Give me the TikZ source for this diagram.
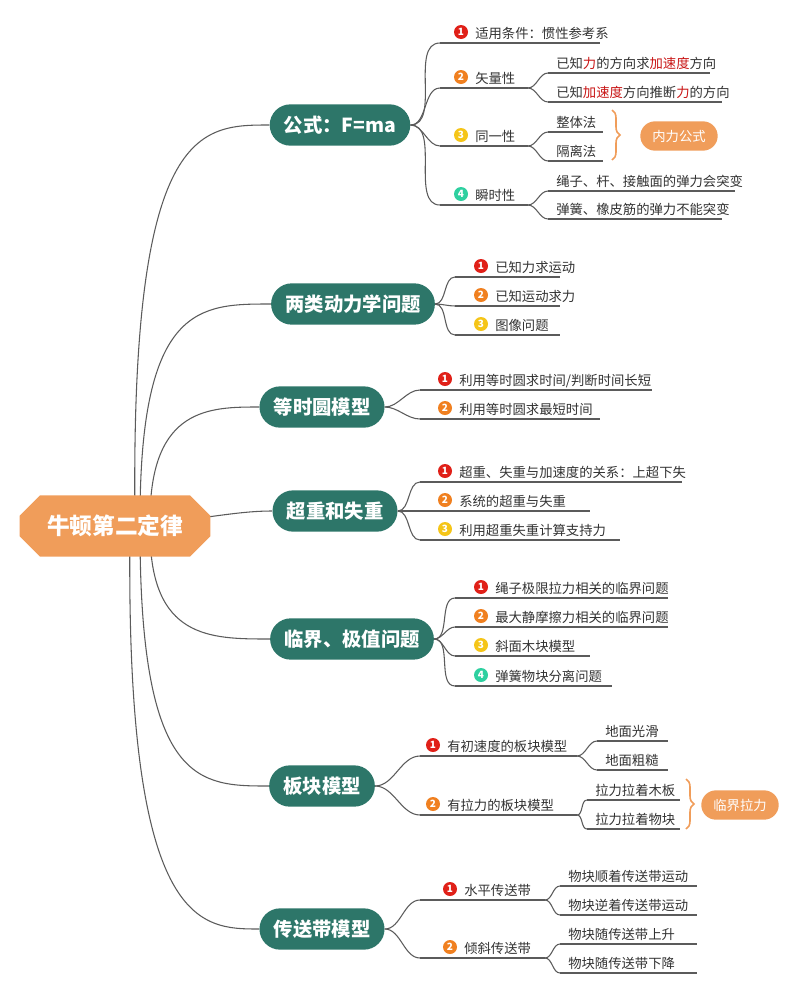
\documentclass[tikz,border=0pt]{standalone}
\usepackage{fontspec}
\setmainfont{Noto Sans CJK SC}
\usetikzlibrary{shapes.misc,decorations.pathreplacing}
\definecolor{teal}{RGB}{45,118,105}
\definecolor{org}{RGB}{240,157,90}
\definecolor{txt}{RGB}{50,50,50}
\definecolor{b1}{RGB}{224,32,24}
\definecolor{b2}{RGB}{240,128,32}
\definecolor{b3}{RGB}{245,197,24}
\definecolor{b4}{RGB}{46,208,160}
\definecolor{rd}{RGB}{200,20,20}
\newcommand\leaf[5]{%
  \coordinate (#1-s) at (#2,#4); \coordinate (#1-e) at (#3,#4);
  \draw[ln] (#1-s) -- (#1-e);
  \node[lt] (#1) at (#2+8,#4-5) {#5};}
\newcommand\badgeleaf[8]{% name xs xe y badgex color number text
  \coordinate (#1-s) at (#2,#4); \coordinate (#1-e) at (#3,#4);
  \draw[ln] (#1-s) -- (#1-e);
  \node[badge,fill=#6] (#1-b) at (#5-6,#4-11) {#7};
  \node[lt] (#1) at (#5+8,#4-5) {#8};}
\begin{document}
\begin{tikzpicture}[x=0.75pt,y=-0.75pt,
  ln/.style={draw=txt!80,line width=0.8pt},
  lt/.style={anchor=base west,inner sep=0pt,text=txt,font=\fontsize{10}{12}\selectfont},
  badge/.style={circle,inner sep=0pt,minimum size=10.5pt,text=white,font=\fontsize{7.5}{7.5}\selectfont\bfseries},
  br/.style={rounded rectangle,fill=teal,text=white,font=\fontsize{14.5}{16}\selectfont\bfseries,minimum height=31pt,inner xsep=9pt},
  tag/.style={rounded rectangle,fill=org,text=white,font=\fontsize{10}{12}\selectfont,minimum height=22pt,inner xsep=8pt},
  cn/.style={ln,out=0,in=180,looseness=0.9}]
\useasboundingbox (0,0) rectangle (800,993);
% branches
\node[br] (f) at (340,125) {公式：F=ma};
\node[br] (a) at (353,304) {两类动力学问题};
\node[br] (b) at (322,407) {等时圆模型};
\node[br] (c) at (335,511) {超重和失重};
\node[br] (d) at (352,639) {临界、极值问题};
\node[br] (e) at (322,786) {板块模型};
\node[br] (g) at (322,929) {传送带模型};
% root connectors
\draw[ln] (135,520) .. controls (130,125) and (200,125) .. (f.west);
\draw[ln] (140,520) .. controls (140,304) and (200,304) .. (a.west);
\draw[ln] (150,520) .. controls (150,407) and (210,407) .. (b.west);
\draw[ln] (200,518) .. controls (230,514) and (250,511) .. (c.west);
\draw[ln] (150,530) .. controls (150,639) and (210,639) .. (d.west);
\draw[ln] (140,530) .. controls (140,786) and (200,786) .. (e.west);
\draw[ln] (130,530) .. controls (125,929) and (200,929) .. (g.west);
\node[chamfered rectangle,chamfered rectangle xsep=12pt,fill=org,text=white,minimum width=143pt,minimum height=46pt,font=\fontsize{17}{20}\selectfont\bfseries] (root) at (115,526) {牛顿第二定律};
% branch 1
\badgeleaf{f1}{440}{600}{43}{467}{b1}{1}{适用条件：惯性参考系}
\badgeleaf{f2}{440}{528}{88}{467}{b2}{2}{矢量性}
\badgeleaf{f3}{440}{528}{146}{467}{b3}{3}{同一性}
\badgeleaf{f4}{440}{528}{205}{467}{b4}{4}{瞬时性}
\foreach \n in {f1,f2,f3,f4} \draw[cn] (f.east) to (\n-s);
\leaf{f21}{548}{710}{73}{已知\textcolor{rd}{力}的方向求\textcolor{rd}{加速度}方向}
\leaf{f22}{548}{722}{102}{已知\textcolor{rd}{加速度}方向推断\textcolor{rd}{力}的方向}
\leaf{f31}{548}{603}{132}{整体法}
\leaf{f32}{548}{603}{161}{隔离法}
\leaf{f41}{548}{735}{191}{绳子、杆、接触面的弹力会突变}
\leaf{f42}{548}{722}{219}{弹簧、橡皮筋的弹力不能突变}
\draw[cn] (f2-e) to (f21-s); \draw[cn] (f2-e) to (f22-s);
\draw[cn] (f3-e) to (f31-s); \draw[cn] (f3-e) to (f32-s);
\draw[cn] (f4-e) to (f41-s); \draw[cn] (f4-e) to (f42-s);
\coordinate (fb1) at (612,110); \coordinate (fb2) at (612,160);
\draw[draw=org,line width=1.2pt,decorate,decoration={brace,amplitude=6pt}] (fb1) -- (fb2);
\node[tag] (nl) at (679,136) {内力公式};
% branch 2
\badgeleaf{a1}{455}{560}{277}{487}{b1}{1}{已知力求运动}
\badgeleaf{a2}{455}{560}{306}{487}{b2}{2}{已知运动求力}
\badgeleaf{a3}{455}{560}{335}{487}{b3}{3}{图像问题}
\foreach \n in {a1,a2,a3} \draw[cn] (a.east) to (\n-s);
% branch 3
\badgeleaf{b1n}{420}{652}{390}{451}{b1}{1}{利用等时圆求时间/判断时间长短}
\badgeleaf{b2n}{420}{600}{419}{451}{b2}{2}{利用等时圆求最短时间}
\foreach \n in {b1n,b2n} \draw[cn] (b.east) to (\n-s);
% branch 4
\badgeleaf{c1}{420}{682}{482}{451}{b1}{1}{超重、失重与加速度的关系：上超下失}
\badgeleaf{c2}{420}{590}{511}{451}{b2}{2}{系统的超重与失重}
\badgeleaf{c3}{420}{620}{540}{451}{b3}{3}{利用超重失重计算支持力}
\foreach \n in {c1,c2,c3} \draw[cn] (c.east) to (\n-s);
% branch 5
\badgeleaf{d1}{455}{668}{598}{487}{b1}{1}{绳子极限拉力相关的临界问题}
\badgeleaf{d2}{455}{668}{627}{487}{b2}{2}{最大静摩擦力相关的临界问题}
\badgeleaf{d3}{455}{590}{656}{487}{b3}{3}{斜面木块模型}
\badgeleaf{d4}{455}{612}{686}{487}{b4}{4}{弹簧物块分离问题}
\foreach \n in {d1,d2,d3,d4} \draw[cn] (d.east) to (\n-s);
% branch 6
\badgeleaf{e1}{420}{577}{756}{439}{b1}{1}{有初速度的板块模型}
\badgeleaf{e2}{420}{577}{815}{439}{b2}{2}{有拉力的板块模型}
\foreach \n in {e1,e2} \draw[cn] (e.east) to (\n-s);
\leaf{e11}{597}{668}{741}{地面光滑}
\leaf{e12}{597}{668}{770}{地面粗糙}
\leaf{e21}{587}{680}{800}{拉力拉着木板}
\leaf{e22}{587}{680}{829}{拉力拉着物块}
\draw[cn] (e1-e) to (e11-s); \draw[cn] (e1-e) to (e12-s);
\draw[cn] (e2-e) to (e21-s); \draw[cn] (e2-e) to (e22-s);
\coordinate (eb1) at (686,779); \coordinate (eb2) at (686,829);
\draw[draw=org,line width=1.2pt,decorate,decoration={brace,amplitude=6pt}] (eb1) -- (eb2);
\node[tag] (ln2) at (740,805) {临界拉力};
% branch 7
\badgeleaf{g1}{420}{545}{900}{456}{b1}{1}{水平传送带}
\badgeleaf{g2}{420}{545}{958}{456}{b2}{2}{倾斜传送带}
\foreach \n in {g1,g2} \draw[cn] (g.east) to (\n-s);
\leaf{g11}{560}{697}{886}{物块顺着传送带运动}
\leaf{g12}{560}{697}{915}{物块逆着传送带运动}
\leaf{g21}{560}{697}{944}{物块随传送带上升}
\leaf{g22}{560}{697}{973}{物块随传送带下降}
\draw[cn] (g1-e) to (g11-s); \draw[cn] (g1-e) to (g12-s);
\draw[cn] (g2-e) to (g21-s); \draw[cn] (g2-e) to (g22-s);
\end{tikzpicture}
\end{document}
